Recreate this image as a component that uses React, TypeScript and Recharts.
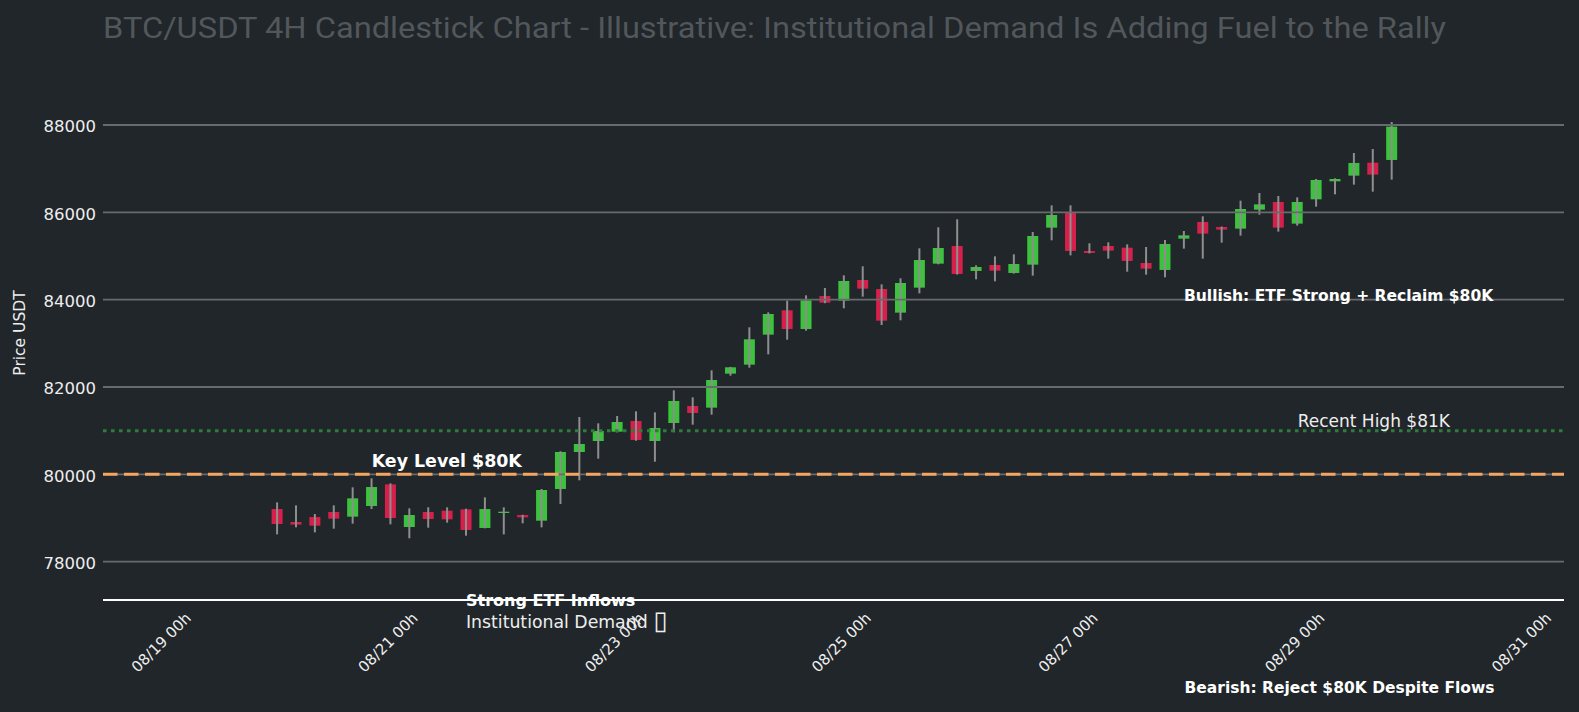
import React from 'react';
import { ComposedChart, Bar, XAxis, YAxis, ReferenceLine } from 'recharts';

// ---- data (4H candles, hours since 08/19 00h) ----
const startHour = 18;
const opens = [79206, 78909, 79023, 79138, 79031, 79275, 79771, 78794, 79138, 79168, 79199, 78772, 79115, 79069, 78939, 79665, 80512, 80764, 80977, 81222, 80764, 81176, 81565, 81527, 82306, 82512, 83199, 83756, 83328, 84084, 83977, 84451, 84244, 83703, 84275, 84825, 85229, 84657, 84794, 84611, 84802, 85649, 86008, 85115, 85229, 85191, 84840, 84680, 85397, 85779, 85664, 85626, 86061, 86237, 85741, 86298, 86710, 86840, 87137, 87199];
const highs = [79359, 79290, 79092, 79290, 79703, 79909, 79794, 79222, 79245, 79245, 79214, 79474, 79245, 79075, 79664, 80530, 81313, 81168, 81336, 81443, 81420, 81924, 81764, 82382, 82460, 83367, 83710, 83977, 84099, 84267, 84557, 84764, 84351, 84489, 85176, 85657, 85840, 84786, 84992, 85038, 85550, 86160, 86160, 85290, 85313, 85267, 85206, 85367, 85573, 85909, 85675, 86267, 86443, 86374, 86344, 86764, 86779, 87359, 87450, 88069];
const lows = [78626, 78787, 78672, 78756, 78871, 79207, 78855, 78535, 78779, 78894, 78596, 78764, 78626, 78878, 78787, 79321, 79863, 80359, 80962, 80770, 80290, 80962, 81138, 81367, 82260, 82443, 82748, 83084, 83290, 83920, 83802, 84069, 83420, 83527, 84145, 84810, 84575, 84466, 84420, 84596, 84550, 85359, 85015, 85060, 84939, 84641, 84573, 84512, 85168, 84939, 85305, 85466, 85947, 85558, 85695, 86130, 86412, 86634, 86473, 86748];
const closes = [78863, 78848, 78825, 78985, 79451, 79710, 79000, 79069, 78977, 78970, 78726, 79206, 79145, 79016, 79642, 80512, 80695, 80993, 81199, 80787, 81061, 81680, 81405, 82161, 82451, 83092, 83672, 83328, 83985, 83931, 84428, 84252, 83519, 84382, 84908, 85183, 84588, 84748, 84664, 84817, 85458, 85939, 85115, 85069, 85122, 84886, 84710, 85275, 85473, 85512, 85603, 86076, 86183, 85649, 86237, 86741, 86763, 87130, 86863, 87962];

const xTicks = [0, 48, 96, 144, 192, 240, 288];
const xTickLabels = ['08/19 00h', '08/21 00h', '08/23 00h', '08/25 00h', '08/27 00h', '08/29 00h', '08/31 00h'];
const yTicks = [78000, 80000, 82000, 84000, 86000, 88000];
const keyLevel = 80000;
const recentHigh = 81000;

const data = opens.map((o, i) => ({
  t: startHour + 4 * i,
  open: o,
  high: highs[i],
  low: lows[i],
  close: closes[i],
}));

const BG = '#20262a';
const GREEN = '#3cc23c';
const RED = '#d61f4a';
const WICK = '#8e8e8e';
const GRID = '#686b6e';
const FONT = '"DejaVu Sans", sans-serif';

function Candle(props: any) {
  const { x, y, width, height, payload } = props;
  if (!payload) return null;
  const { open, close, high, low } = payload;
  const yTop = Math.min(y, y + height);
  const h = Math.abs(height);
  const ratio = h / (high - low || 1);
  const top = yTop + (high - Math.max(open, close)) * ratio;
  const bot = yTop + (high - Math.min(open, close)) * ratio;
  const up = close >= open;
  const cx = x + width / 2;
  return (
    <g>
      <rect x={x} y={top} width={width} height={Math.max(bot - top, 1)} fill={up ? GREEN : RED} />
      <line x1={cx} x2={cx} y1={yTop} y2={yTop + h} stroke={WICK} strokeWidth={2} />
    </g>
  );
}

function XTick(props: any) {
  const { x, y, payload } = props;
  const idx = xTicks.indexOf(payload.value);
  const ty = y + 19;
  return (
    <text x={x} y={ty} transform={`rotate(-45, ${x}, ${ty})`} textAnchor="end" fill="#eeeeee" fontSize={15} fontFamily={FONT}>
      {idx >= 0 ? xTickLabels[idx] : ''}
    </text>
  );
}

function YTick(props: any) {
  const { x, y, payload } = props;
  return (
    <text x={x} y={y + 7.4} textAnchor="end" fill="#eeeeee" fontSize={16.5} fontFamily={FONT}>
      {payload.value}
    </text>
  );
}

export default function App() {
  return (
    <div style={{ position: 'fixed', left: 0, top: 0, width: 1579, height: 712, background: BG, overflow: 'hidden' }}>
      <ComposedChart
        width={1579}
        height={712}
        data={data}
        margin={{ top: 100, right: 15, bottom: 82, left: 23 }}
      >
        <XAxis
          type="number"
          dataKey="t"
          domain={[-18.85, 290.5]}
          allowDataOverflow
          ticks={xTicks}
          interval={0}
          tick={<XTick />}
          tickLine={false}
          tickSize={0}
          tickMargin={0}
          height={30}
          axisLine={{ stroke: '#ffffff', strokeWidth: 2 }}
        />
        <YAxis
          type="number"
          domain={[77123, 88572]}
          allowDataOverflow
          ticks={yTicks}
          interval={0}
          width={80}
          axisLine={false}
          tickLine={false}
          tickSize={0}
          tickMargin={7}
          tick={<YTick />}
        />
        {yTicks.map((v) => (
          <ReferenceLine key={`g${v}`} y={v} stroke={GRID} strokeWidth={1.8} />
        ))}
        <Bar
          dataKey={(d: any) => [d.low, d.high]}
          barSize={11}
          shape={<Candle />}
          isAnimationActive={false}
        />
        <ReferenceLine y={recentHigh} stroke="#2f7d3a" strokeWidth={3} strokeDasharray="3.5 4.5" />
        <ReferenceLine y={keyLevel} stroke="#f4a560" strokeWidth={3} strokeDasharray="14.5 6.5" />
      </ComposedChart>
      <svg width={1579} height={712} style={{ position: 'absolute', left: 0, top: 0, pointerEvents: 'none' }}>
        <text x={103} y={38.3} fontFamily='Roboto, sans-serif' fontSize={30} fill="#52575b" textLength={1343} lengthAdjust="spacingAndGlyphs">
          BTC/USDT 4H Candlestick Chart - Illustrative: Institutional Demand Is Adding Fuel to the Rally
        </text>
        <text x={19.5} y={333} transform="rotate(-90, 19.5, 333)" dy={5.5} textAnchor="middle" fontFamily={FONT} fontSize={15.5} fill="#eeeeee">
          Price USDT
        </text>
        <text x={371.7} y={466.7} fontFamily={FONT} fontWeight="bold" fontSize={17.4} fill="#ffffff">Key Level $80K</text>
        <text x={1297.7} y={426.7} fontFamily={FONT} fontSize={17} fill="#eeeeee">Recent High $81K</text>
        <text x={1184} y={301} fontFamily={FONT} fontWeight="bold" fontSize={15.5} fill="#ffffff">Bullish: ETF Strong + Reclaim $80K</text>
        <text x={1184.5} y={693} fontFamily={FONT} fontWeight="bold" fontSize={15.5} fill="#ffffff">Bearish: Reject $80K Despite Flows</text>
        <text x={466} y={605.7} fontFamily={FONT} fontWeight="bold" fontSize={16} fill="#ffffff">Strong ETF Inflows</text>
        <text x={466} y={628.3} fontFamily={FONT} fontSize={17.3} fill="#eeeeee">
          Institutional Demand <tspan fontSize={26} dy={1}>▯</tspan>
        </text>
      </svg>
    </div>
  );
}
